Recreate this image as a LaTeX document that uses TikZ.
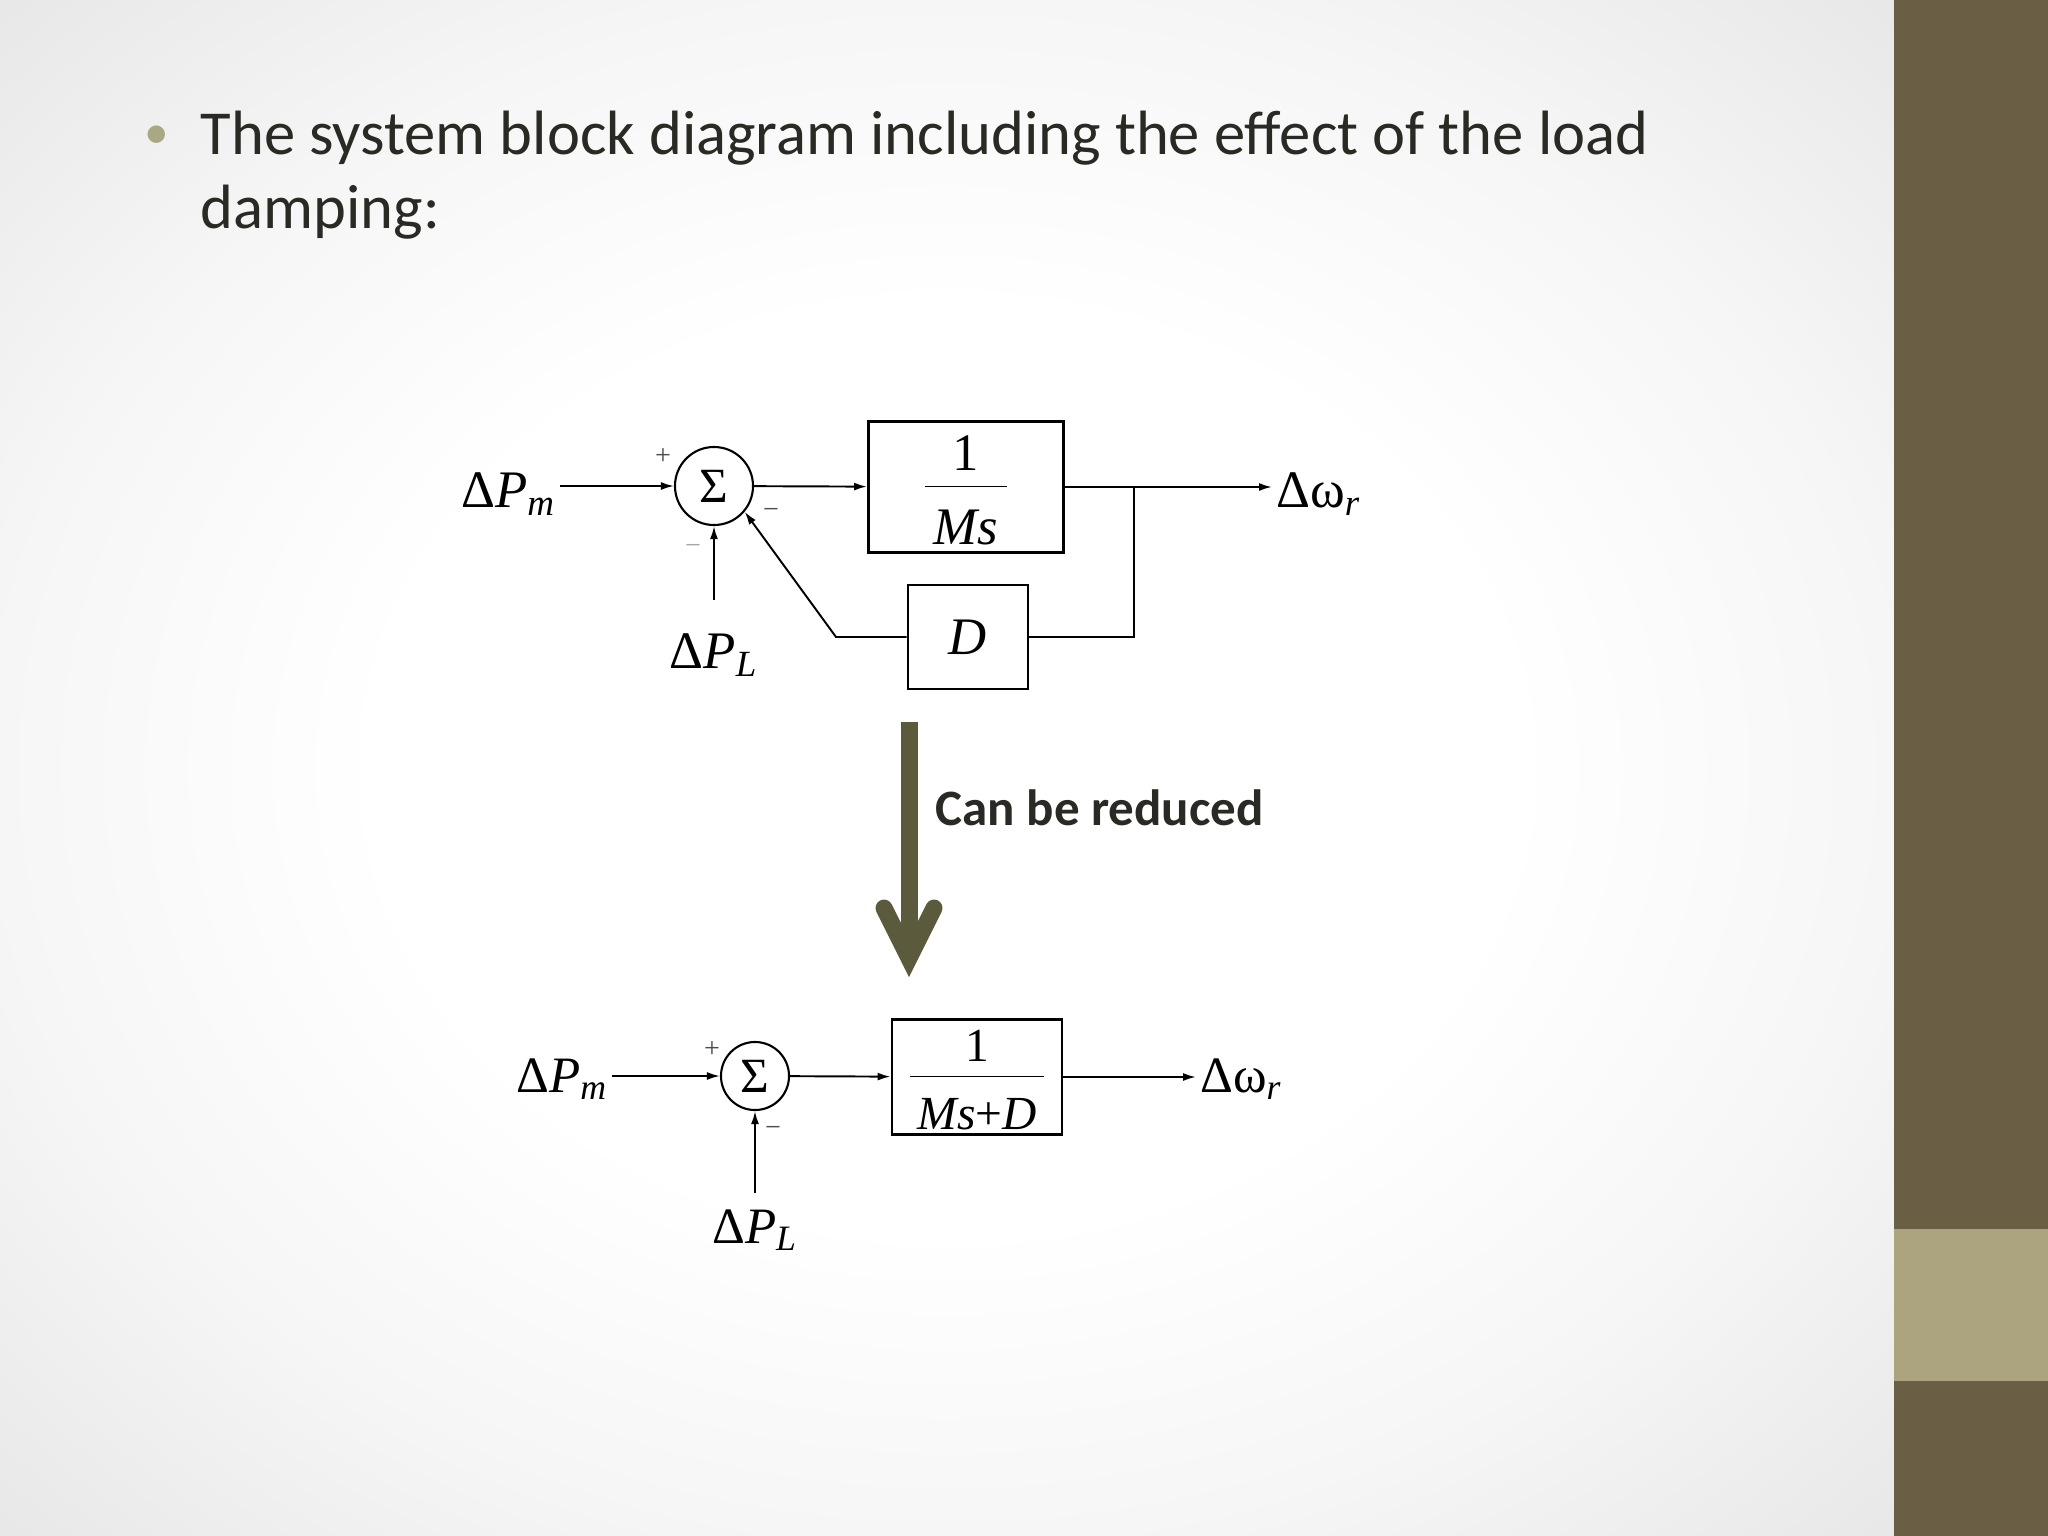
\documentclass[tikz,border=0pt]{standalone}
\usepackage{fontspec}
\setmainfont{Liberation Serif}
\newfontfamily\slidefont{Carlito}
\usepackage{tikz}
\usetikzlibrary{arrows.meta, positioning}
\definecolor{sidedark}{HTML}{6A5E45}
\definecolor{sidelight}{HTML}{ABA47E}
\definecolor{olive}{HTML}{5C5A3C}
\definecolor{bulletgreen}{HTML}{A8A882}
\definecolor{slidetext}{HTML}{2A2A24}
\pgfdeclareradialshading{slidebg}{\pgfpoint{0bp}{0bp}}{color(0bp)=(white); color(15bp)=(white); color(25bp)=(gray!7); color(35bp)=(gray!18); color(50bp)=(gray!22)}
\newcommand{\blockfrac}[2]{{\renewcommand{\arraystretch}{0}\begin{tabular}{@{\,}c@{\,}}\rule[-0.29em]{0pt}{1.12em}#1\\\hline\rule[-0.05em]{0pt}{1.15em}#2\end{tabular}}}

\begin{document}
\begin{tikzpicture}[x=0.01cm, y=-0.01cm,
  block/.style={rectangle, draw, line width=0.8pt, align=center, inner sep=0pt, font=\fontsize{15}{17}\selectfont},
  sumnode/.style={circle, draw, line width=0.6pt, inner sep=0pt, font=\fontsize{14}{16}\selectfont},
  lbl/.style={inner sep=1pt, font=\fontsize{15}{17}\selectfont},
  sgn/.style={inner sep=0pt, font=\fontsize{8}{9}\selectfont, text=black!70},
  sig/.style={-{Latex[length=0.13cm, width=0.08cm]}, line width=0.55pt},
  wire/.style={line width=0.55pt},
  reduce/.style={draw=olive, line width=0.17cm}
]
\useasboundingbox (0,0) rectangle (2048,1536);
\shade[shading=slidebg] (0,0) rectangle (1894,1536);
\fill[sidedark] (1894,0) rectangle (2048,1536);
\fill[sidelight] (1894,1229) rectangle (2048,1381);

% slide text
\node[text=bulletgreen, inner sep=0pt, font=\slidefont\fontsize{14}{16}\selectfont] (bullet) at (157,137) {•};
\node[anchor=north west, inner sep=0pt, align=left, text=slidetext, font=\slidefont\fontsize{17.8}{21.2}\selectfont] (title) at (200,110)
  {The system block diagram including the effect of the load\\damping:};

% with damping loop
\node[sumnode, minimum size=0.78cm] (sum1) at (714,486) {Σ};
\node[lbl, anchor=east] (pm1) at (560,494) {Δ\textit{P}\textsubscript{\textit{m}}};
\node[block, minimum width=1.95cm, minimum height=1.31cm] (ms) at (966,487) {\blockfrac{1}{\textit{Ms}}};
\node[block, minimum width=1.2cm, minimum height=1.04cm] (damp) at (968,637) {\textit{D}};
\node[lbl, anchor=west] (wr1) at (1272,494) {Δω\textsubscript{\textit{r}}};
\node[lbl] (pl1) at (714,655) {Δ\textit{P}\textsubscript{\textit{L}}};
\node[sgn] (plus1) at (663,457) {+};
\node[sgn] (minus1) at (771,513) {−};
\node[sgn, text=black!35] (minus2) at (693,549) {−};
\coordinate (br1) at (1134,487);
\coordinate (fb1) at (836,637);

\draw[sig] (pm1.east |- sum1) -- (sum1);
\draw[sig] (sum1) -- (ms);
\draw[sig] (ms.east) -- (ms.east -| wr1.west);
\draw[wire] (br1) |- (damp.east);
\draw[sig] (damp.west) -- (fb1) -- (sum1.-40);
\draw[sig, shorten <=0.3cm] (pl1.north) -- (sum1.south);

% reduction arrow
\coordinate (redtop) at (909,722);
\coordinate (redtip) at (909,958);
\draw[reduce] (redtop) -- (909,950);
\draw[reduce, line cap=round, line join=miter] (884,908) -- (redtip) -- (934,908);
\node[anchor=base west, inner sep=0pt, text=slidetext, font=\slidefont\bfseries\fontsize{14.5}{17}\selectfont] (canred) at (935,825) {Can be reduced};

% reduced form
\node[sumnode, minimum size=0.68cm] (sum2) at (755,1076) {Σ};
\node[lbl, anchor=east, font=\fontsize{14.5}{16}\selectfont] (pm2) at (612,1079) {Δ\textit{P}\textsubscript{\textit{m}}};
\node[block, minimum width=1.7cm, minimum height=1.15cm, font=\fontsize{13.5}{15}\selectfont] (msd) at (977,1077) {\blockfrac{1}{\textit{Ms}+\textit{D}}};
\node[lbl, anchor=west, font=\fontsize{14.5}{16}\selectfont] (wr2) at (1196,1079) {Δω\textsubscript{\textit{r}}};
\node[lbl, font=\fontsize{14.5}{16}\selectfont] (pl2) at (755,1230) {Δ\textit{P}\textsubscript{\textit{L}}};
\node[sgn] (plus2) at (712,1050) {+};
\node[sgn] (minus3) at (773,1131) {−};

\draw[sig] (pm2.east |- sum2) -- (sum2);
\draw[sig] (sum2) -- (msd);
\draw[sig] (msd.east) -- (msd.east -| wr2.west);
\draw[sig, shorten <=0.12cm] (pl2.north) -- (sum2.south);
\end{tikzpicture}
\end{document}
